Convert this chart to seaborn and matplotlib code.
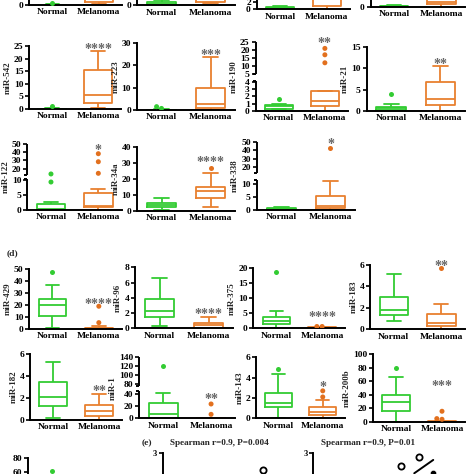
import numpy as np
import pandas as pd
import matplotlib
matplotlib.use("Agg")
import matplotlib.pyplot as plt
import matplotlib.transforms as mtransforms
import seaborn as sns

# ---------------- data (box stats: min, q1, median, q3, max) ----------------
GROUPS = ["Normal", "Melanoma"]

TOPA_N = [0, 0, 0.05, 0.15, 0.3];      TOPA_M = [0.2, 0.8, 5, 10, 18]
TOPA_ON = [0.5];                       TOPA_OM = []
TOPB_N = [0, 0.05, 0.2, 0.5, 0.8];     TOPB_M = [0.3, 0.55, 2, 4, 8]
TOPB_ON = [];                          TOPB_OM = []
TOPC_N = [0, 0.2, 0.4, 0.6, 0.9];      TOPC_M = [0.2, 1.0, 3, 6, 12]
TOPC_ON = [];                          TOPC_OM = []
TOPD_N = [0, 0, 0.1, 0.2, 0.4];        TOPD_M = [0, 0.8, 1.6, 6, 12]
TOPD_ON = [];                          TOPD_OM = []

MIR542_N = [0, 0, 0.05, 0.15, 0.3];    MIR542_M = [0.5, 2.5, 5.6, 15.5, 23]
MIR542_ON = [1.2];                     MIR542_OM = []
MIR223_N = [0, 0, 0.05, 0.2, 0.4];     MIR223_M = [0, 0.7, 2.7, 9.7, 23.9]
MIR223_ON = [0.7, 1.5];                MIR223_OM = []
MIR190_N = [0.2, 0.3, 0.6, 0.8, 0.95]; MIR190_M = [0, 0.7, 1.4, 2.7, 2.8]
MIR190_ON = [1.6];                     MIR190_OM = [12, 17, 21]
MIR21_N = [0, 0.2, 0.7, 1.0, 1.6];     MIR21_M = [0, 1.4, 2.8, 6.8, 10.5]
MIR21_ON = [3.9];                      MIR21_OM = []

MIR122_N = [0, 0, 0.2, 1.9, 2.6];      MIR122_M = [0, 0.8, 1.3, 5.7, 6.9]
MIR122_ON = [9.2, 13.5];               MIR122_OM = [14.3, 28.4, 38.2]
MIR34A_N = [0.5, 2.1, 3.6, 5.0, 8.1];  MIR34A_M = [2.5, 8.1, 12.3, 14.6, 23.6]
MIR34A_ON = [];                        MIR34A_OM = [26.9]
MIR338_N = [0, 0.1, 0.3, 0.6, 0.9];    MIR338_M = [0, 0.5, 1.5, 5.3, 11.0]
MIR338_ON = [];                        MIR338_OM = [42.4]

MIR429_N = [1, 10.3, 20.3, 24.6, 36.6]; MIR429_M = [0, 0, 0.3, 1, 2.3]
MIR429_ON = [48];                       MIR429_OM = [5.1, 18.9]
MIR96_N = [0.3, 1.44, 2.3, 3.9, 6.55];  MIR96_M = [0.05, 0.1, 0.44, 0.74, 1.53]
MIR96_ON = [];                          MIR96_OM = []
MIR375_N = [0, 1.4, 2.4, 3.9, 5.6];     MIR375_M = [0, 0, 0.1, 0.3, 0.5]
MIR375_ON = [18.9];                     MIR375_OM = [0.6, 0.6]
MIR183_N = [0.8, 1.35, 1.8, 3.0, 5.15]; MIR183_M = [0, 0.35, 0.56, 1.45, 2.4]
MIR183_ON = [];                         MIR183_OM = [5.7]

MIR182_N = [0.15, 1.3, 2.1, 3.5, 5.25]; MIR182_M = [0, 0.4, 0.8, 1.35, 2.4]
MIR182_ON = [];                         MIR182_OM = []
MIR1_N = [0, 0, 6.6, 25.7, 42];         MIR1_M = [0, 0, 0.2, 0.5, 1]
MIR1_ON = [120];                        MIR1_OM = [6.5, 23.5]
MIR143_N = [0, 1.08, 1.48, 2.52, 4.33]; MIR143_M = [0, 0.33, 0.66, 1.08, 1.8]
MIR143_ON = [4.85];                     MIR143_OM = [2.1, 2.7]
MIR200B_N = [0, 15.8, 29.6, 39.4, 65.5]; MIR200B_M = [0, 0, 0.5, 1, 2]
MIR200B_ON = [79.8];                     MIR200B_OM = [4, 5, 15.8]

BOT_N = [0, 5, 10, 20, 30];             BOT_M = [0, 0.5, 1, 2, 4]
BOT_ON = [61];                          BOT_OM = []

S1_X = [2.36];          S1_Y = [2.36]
S2_X = [2.08, 2.51];    S2_Y = [2.52, 2.86]
S2_FX = [2.83];         S2_FY = [2.24]
S2_LINE_X = [2.39, 2.84]; S2_LINE_Y = [2.24, 2.74]

TITLE1 = "Spearman r=0.9, P=0.004"
TITLE2 = "Spearman r=0.9, P=0.01"

# ---------------- style ----------------
W = H = 474
sns.set_style("ticks")
plt.rcParams["font.family"] = ["Liberation Serif", "DejaVu Serif"]
plt.rcParams["font.weight"] = "bold"
GREEN = "#33cc33"
ORANGE = "#e8802f"
DOT_OR = "#e2701e"
STAR = "#666666"
TICK_FS = 6.8
LAB_FS = 6.4
SPINE_LW = 1.4

fig = plt.figure(figsize=(W / 100, H / 100), dpi=100)


def px_axes(x0, x1, ytop, ybot):
    return fig.add_axes([x0 / W, 1 - ybot / H, (x1 - x0) / W, (ybot - ytop) / H])


def piecewise(xp, fp):
    xp = np.asarray(xp, float)
    fp = np.asarray(fp, float)

    def make(a, b):
        s0 = (b[1] - b[0]) / (a[1] - a[0])
        s1 = (b[-1] - b[-2]) / (a[-1] - a[-2])

        def f(v):
            v = np.asarray(v, float)
            out = np.interp(v, a, b)
            out = np.where(v < a[0], b[0] + (v - a[0]) * s0, out)
            out = np.where(v > a[-1], b[-1] + (v - a[-1]) * s1, out)
            return out
        return f
    return make(xp, fp), make(fp, xp)


def style_axes(ax):
    sns.despine(ax=ax)
    for s in ("left", "bottom"):
        ax.spines[s].set_linewidth(SPINE_LW)
        ax.spines[s].set_color("black")
    ax.tick_params(axis="y", direction="out", length=3, width=1.2,
                   labelsize=TICK_FS, pad=1.2, colors="black")
    ax.tick_params(axis="x", length=0, labelsize=TICK_FS, pad=2.5, colors="black")
    ax.minorticks_off()


def panel(box, label, normal, melan, out_n, out_m, ylim, ticks,
          stars=None, star_px=None, brk=None, xlabels=True):
    x0, x1, ytop, ybot = box
    ax = px_axes(*box)
    hpx = ybot - ytop
    if brk is not None:
        fwd, inv = piecewise(*brk)
        ax.set_yscale("function", functions=(fwd, inv))
    df = pd.DataFrame({"group": ["Normal"] * len(normal) + ["Melanoma"] * len(melan),
                       "value": list(normal) + list(melan)})
    sns.boxplot(data=df, x="group", y="value", hue="group", order=GROUPS,
                hue_order=GROUPS, palette=[GREEN, ORANGE], fill=False,
                whis=(0, 100), width=0.6, linewidth=1.3, showfliers=False,
                legend=False, ax=ax)
    if len(out_n) + len(out_m):
        odf = pd.DataFrame({"group": ["Normal"] * len(out_n) + ["Melanoma"] * len(out_m),
                            "value": list(out_n) + list(out_m)})
        sns.swarmplot(data=odf, x="group", y="value", hue="group", order=GROUPS,
                      hue_order=GROUPS, palette={"Normal": GREEN, "Melanoma": DOT_OR},
                      size=3.6, legend=False, ax=ax)
    ax.set_xlim(-0.5, 1.5)
    ax.set_ylim(*ylim)
    ax.set_yticks(ticks)
    ax.set_yticklabels([f"{t:g}" for t in ticks])
    ax.set_xlabel("")
    if not xlabels:
        ax.set_xticks([])
    ax.set_ylabel(label, fontsize=LAB_FS, labelpad=1.5, fontweight="bold")
    style_axes(ax)
    if brk is not None:
        b1, b2 = brk[0][1], brk[0][2]
        ax.spines["left"].set_visible(False)
        tr = mtransforms.blended_transform_factory(ax.transAxes, ax.transData)
        dx = 3.0 / (x1 - x0)
        kw = dict(transform=tr, color="black", lw=SPINE_LW, clip_on=False,
                  solid_capstyle="butt")
        ax.plot([0, 0], [ylim[0], b1], **kw)
        ax.plot([0, 0], [b2, ylim[1]], **kw)
        ax.plot([-dx, 0], [b1, b1], **kw)
        ax.plot([-dx, 0], [b2, b2], **kw)
    if stars:
        tr = mtransforms.blended_transform_factory(ax.transData, ax.transAxes)
        yf = (ybot - (star_px + 4.5)) / hpx
        ax.text(1, yf, stars, transform=tr, ha="center", va="center",
                fontsize=10, color=STAR, fontweight="bold", clip_on=False)
    return ax


# ---- top (cut) row ----
panel((29.3, 122, -59, 5), "", TOPA_N, TOPA_M, TOPA_ON, TOPA_OM, (0, 20), [0])
panel((137, 235, -59, 5.3), "", TOPB_N, TOPB_M, TOPB_ON, TOPB_OM, (0, 10), [0])
panel((256.7, 350, -55, 9.3), "", TOPC_N, TOPC_M, TOPC_ON, TOPC_OM, (0, 17.5), [0, 2])
panel((370.7, 465, -57, 6.7), "", TOPD_N, TOPD_M, TOPD_ON, TOPD_OM, (0, 20), [0])

# ---- row 1 ----
panel((29.3, 121, 46, 109), "miR-542", MIR542_N, MIR542_M, MIR542_ON, MIR542_OM,
      (0, 25), [0, 5, 10, 15, 20, 25], "****", 45)
panel((137, 235, 43, 110), "miR-223", MIR223_N, MIR223_M, MIR223_ON, MIR223_OM,
      (0, 30), [0, 10, 20, 30], "***", 51)
panel((255.5, 348, 42, 110.7), "miR-190", MIR190_N, MIR190_M, MIR190_ON, MIR190_OM,
      (0, 25), [0, 1, 2, 3, 4, 5, 10, 15, 20, 25], "**", 39,
      brk=([0, 4.2, 4.8, 25], [0, 30.1, 36.4, 68.7]))
panel((366.5, 465, 46.7, 111), "miR-21", MIR21_N, MIR21_M, MIR21_ON, MIR21_OM,
      (0, 15), [0, 5, 10, 15], "**", 60)

# ---- row 2 ----
panel((27.3, 122, 144, 209.7), "miR-122", MIR122_N, MIR122_M, MIR122_ON, MIR122_OM,
      (0, 50), [0, 5, 10, 20, 30, 40, 50], "*", 146,
      brk=([0, 10.3, 12, 50], [0, 31, 34.5, 65.7]))
panel((137, 235, 146.7, 210.7), "miR-34a", MIR34A_N, MIR34A_M, MIR34A_ON, MIR34A_OM,
      (0, 40), [0, 10, 20, 30, 40], "****", 157.7)
panel((256.7, 355, 142, 209.7), "miR-338", MIR338_N, MIR338_M, MIR338_ON, MIR338_OM,
      (0, 50), [0, 5, 10, 20, 30, 40, 50], "*", 140,
      brk=([0, 11.5, 12.5, 50], [0, 30, 36.7, 67.7]))

# ---- row 3 ----
panel((29.3, 122, 269.3, 328.7), "miR-429", MIR429_N, MIR429_M, MIR429_ON, MIR429_OM,
      (0, 50), [0, 10, 20, 30, 40, 50], "****", 300)
panel((135, 233, 267.3, 328.3), "miR-96", MIR96_N, MIR96_M, MIR96_ON, MIR96_OM,
      (0, 8), [0, 2, 4, 6, 8], "****", 310)
panel((253.5, 345, 268.3, 328.3), "miR-375", MIR375_N, MIR375_M, MIR375_ON, MIR375_OM,
      (0, 20), [0, 5, 10, 15, 20], "****", 313)
panel((370, 465, 265, 329.3), "miR-183", MIR183_N, MIR183_M, MIR183_ON, MIR183_OM,
      (0, 6), [0, 2, 4, 6], "**", 261.7)

# ---- row 4 ----
panel((30, 122, 354, 420), "miR-182", MIR182_N, MIR182_M, MIR182_ON, MIR182_OM,
      (0, 6), [0, 2, 4, 6], "**", 386.7)
panel((139.3, 235, 357.3, 418.3), "miR-1", MIR1_N, MIR1_M, MIR1_ON, MIR1_OM,
      (0, 140), [0, 20, 40, 80, 100, 120, 140], "**", 395,
      brk=([0, 45, 75, 140], [0, 27.4, 32.1, 61]))
panel((256, 345, 357.3, 418.3), "miR-143", MIR143_N, MIR143_M, MIR143_ON, MIR143_OM,
      (0, 6), [0, 2, 4, 6], "*", 382.7)
panel((373, 465, 354, 422), "miR-200b", MIR200B_N, MIR200B_M, MIR200B_ON, MIR200B_OM,
      (0, 100), [0, 20, 40, 60, 80, 100], "***", 381.7)

# ---- bottom (cut) row ----
panel((28.3, 122, 458, 514), "", BOT_N, BOT_M, BOT_ON, BOT_OM, (0, 80), [60, 80],
      xlabels=False)

for (x0, x1), xs, ys in [((163, 290), S1_X, S1_Y), ((313.3, 440), S2_X, S2_Y)]:
    ax = px_axes(x0, x1, 453, 533)
    sns.scatterplot(x=xs, y=ys, ax=ax, marker="o", s=20, facecolor="white",
                    edgecolor="black", linewidth=1.3)
    ax.set_xlim(0, 3)
    ax.set_ylim(0, 3)
    ax.set_yticks([3])
    ax.set_xticks([])
    style_axes(ax)
    ax.tick_params(axis="y", labelsize=6)
    if x0 > 300:
        sns.scatterplot(x=S2_FX, y=S2_FY, ax=ax, marker="o", s=20, color="black")
        sns.lineplot(x=S2_LINE_X, y=S2_LINE_Y, ax=ax, color="black", lw=1.4)

fig.text(7 / W, 1 - 253 / H, "(d)", fontsize=6.8, fontweight="bold", va="center")
fig.text(142 / W, 1 - 443 / H, "(e)", fontsize=6.8, fontweight="bold", va="center")
fig.text(219 / W, 1 - 443 / H, TITLE1, fontsize=6.6, fontweight="bold", va="center", ha="center")
fig.text(368 / W, 1 - 443 / H, TITLE2, fontsize=6.6, fontweight="bold", va="center", ha="center")

fig.savefig("out.png", dpi=100)
